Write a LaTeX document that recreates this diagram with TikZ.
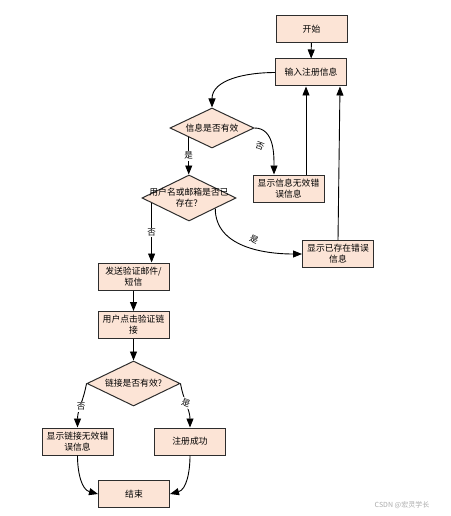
\documentclass[tikz,border=0pt]{standalone}
\usepackage{fontspec}
\newfontfamily\cjk{Noto Sans CJK SC}
\usetikzlibrary{shapes.geometric,arrows.meta,calc}
\definecolor{boxfill}{RGB}{252,228,214}
\definecolor{boxline}{RGB}{45,45,45}
\definecolor{wmgray}{RGB}{170,170,170}
\begin{document}
\begin{tikzpicture}[x=1pt,y=1pt,
  font=\cjk\fontsize{8.8}{11}\selectfont,
  procbox/.style={draw=boxline, fill=boxfill, line width=1pt, minimum width=71pt, minimum height=27pt, inner sep=1pt, align=center},
  decis/.style={draw=boxline, fill=boxfill, line width=1pt, diamond, inner sep=0pt},
  arr/.style={-{Triangle[length=9pt,width=7pt]}, line width=0.9pt, draw=black},
  lbl/.style={fill=white, inner sep=1pt, font=\cjk\fontsize{8.5}{10}\selectfont}]
\useasboundingbox (0,0) rectangle (450,-516);
\node[procbox] (start) at (311.5,-29) {开始};
\node[procbox] (in) at (311,-72.5) {输入注册信息};
\node[decis, minimum width=84pt, minimum height=40pt, label=center:信息是否有效] (d1) at (212,-128) {};
\node[procbox] (e1) at (288.5,-188.5) {显示信息无效错\\误信息};
\node[decis, minimum width=94pt, minimum height=46pt, label={[align=center]center:用户名或邮箱是否已\\存在？}] (d2) at (189,-198) {};
\node[procbox] (e2) at (338,-254) {显示已存在错误\\信息};
\node[procbox] (send) at (133.5,-276.5) {发送验证邮件/\\短信};
\node[procbox] (click) at (133.5,-325) {用户点击验证链\\接};
\node[decis, minimum width=93pt, minimum height=45pt, label=center:链接是否有效?] (d3) at (133.5,-383.5) {};
\node[procbox] (e3) at (77.5,-441.5) {显示链接无效错\\误信息};
\node[procbox] (ok) at (190,-441.5) {注册成功};
\node[procbox] (end) at (134,-494) {结束};
\node[text=wmgray, font=\cjk\fontsize{7}{8}\selectfont] (wm) at (402,-505) {CSDN @宏灵学长};

\draw[arr] (start) -- (in);
\draw[arr] (in.west) to[out=180,in=90] (d1.north);
\draw[arr] (d1.east) to[out=0,in=90] ([xshift=-14.5pt]e1.north);
\node[lbl, fill=none, rotate=-20] (l1) at (260,-146) {否};
\draw[arr] ([xshift=17.5pt]e1.north) -- ([xshift=17.5pt]e1.north |- in.south);
\draw[arr] (e2.north) -- ([xshift=29pt]in.south);
\coordinate (d1y) at ($(d1.south)!23/42!(d1.west)$);
\draw[arr] (d1y) -- (d1y |- d2.north) node[lbl, pos=0.5] (l2) {是};
\coordinate (d2n) at ($(d2.south)!37/47!(d2.west)$);
\draw[arr] (d2n) -- (d2n |- send.north) node[lbl, pos=0.5] (l3) {否};
\coordinate (d2s) at ($(d2.south)!26/47!(d2.east)$);
\draw[arr] (d2s) to[out=-90,in=180] (e2.west);
\node[lbl, fill=none, rotate=-25] (l4) at (254,-240) {是};
\draw[arr] (send) -- (click);
\draw[arr] (click) -- (d3);
\draw[arr] (d3.west) to[out=-100,in=90] (e3.north);
\node[lbl] (l5) at (81,-407) {否};
\draw[arr] (d3.east) to[out=-80,in=90] (ok.north);
\node[lbl, rotate=-20] (l6) at (186,-403) {是};
\draw[arr] (e3.south) to[out=-90,in=165] (end.west);
\draw[arr] (ok.south) to[out=-90,in=15] (end.east);
\end{tikzpicture}
\end{document}
